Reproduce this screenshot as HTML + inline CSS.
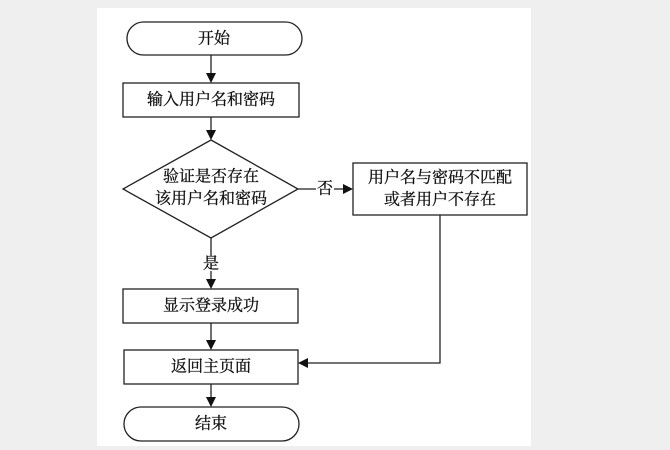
<!DOCTYPE html>
<html><head><meta charset="utf-8"><style>
html,body{margin:0;padding:0;background:#efefef;}
svg{display:block;}
text{font-family:"Liberation Serif","Noto Serif CJK SC",serif;font-size:16px;fill:#111;stroke:#111;stroke-width:0.3;text-anchor:middle;dominant-baseline:central;}
</style></head><body>
<svg width="670" height="450" viewBox="0 0 670 450" xmlns="http://www.w3.org/2000/svg">
<rect x="97" y="8" width="434" height="438" fill="#fff"/>
<g stroke="#222" stroke-width="1.3" fill="none">
<rect x="127" y="22" width="175" height="33" rx="16.5"/>
<rect x="123" y="83" width="176" height="34"/>
<polygon points="211,140 298,189 211,238 123,189"/>
<rect x="353" y="163" width="174" height="52"/>
<rect x="123" y="289" width="175" height="34"/>
<rect x="124" y="350" width="174" height="34"/>
<rect x="124" y="407" width="175" height="34" rx="17"/>
<line x1="211" y1="55" x2="211" y2="74"/>
<line x1="211" y1="117" x2="211" y2="131"/>
<line x1="211" y1="238" x2="211" y2="256"/>
<line x1="211" y1="271" x2="211" y2="280"/>
<line x1="211" y1="323" x2="211" y2="341"/>
<line x1="211" y1="384" x2="211" y2="398"/>
<line x1="298" y1="189" x2="316" y2="189"/>
<line x1="334" y1="189" x2="344" y2="189"/>
<polyline points="440,215 440,363 308,363"/>
</g>
<g fill="#111">
<polygon points="206,73 216,73 211,83"/>
<polygon points="206,130 216,130 211,140"/>
<polygon points="206,279 216,279 211,289"/>
<polygon points="206,340 216,340 211,350"/>
<polygon points="206,397 216,397 211,407"/>
<polygon points="343,184 343,194 353,189"/>
<polygon points="308,358 308,368 298,363"/>
</g>
<text x="214" y="39">开始</text>
<text x="211" y="100">输入用户名和密码</text>
<text x="211" y="177">验证是否存在</text>
<text x="211" y="199">该用户名和密码</text>
<text x="325" y="189">否</text>
<text x="440" y="178">用户名与密码不匹配</text>
<text x="440" y="200">或者用户不存在</text>
<text x="211" y="264">是</text>
<text x="211" y="306">显示登录成功</text>
<text x="211" y="367">返回主页面</text>
<text x="211" y="424">结束</text>
</svg>
</body></html>
